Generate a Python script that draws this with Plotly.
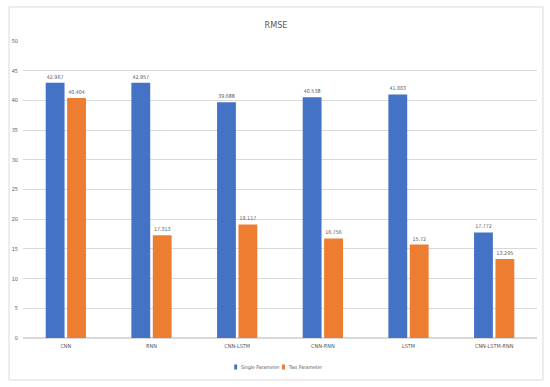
import plotly.graph_objects as go

categories = ["CNN", "RNN", "CNN-LSTM", "CNN-RNN", "LSTM", "CNN-LSTM-RNN"]
single_param = [42.967, 42.957, 39.688, 40.538, 41.003, 17.772]
two_param = [40.404, 17.313, 19.117, 16.756, 15.72, 13.295]
y_ticks = [0, 5, 10, 15, 20, 25, 30, 35, 40, 45, 50]
series_names = ["Single Parameter", "Two Parameter"]
series_colors = ["#4472C4", "#ED7D31"]

FONT = "DejaVu Sans Condensed, Liberation Sans, sans-serif"
GRAY = "#595959"

fig = go.Figure()
for name, vals, col in zip(series_names, [single_param, two_param], series_colors):
    fig.add_trace(go.Bar(
        name=name, x=categories, y=vals,
        marker_color=col, marker_line_width=0, text=[str(v) for v in vals],
        textposition="outside", textfont=dict(size=5.3, color=GRAY, family=FONT),
        cliponaxis=False, showlegend=False,
    ))

W, H = 550, 387
L, R, T, B = 21, 13, 41, 49
pw, ph = W - L - R, H - T - B

def px_x(p):
    return (p - L) / pw

def px_y(p):
    return (H - B - p) / ph

shapes = [dict(type="rect", xref="paper", yref="paper",
               x0=px_x(7), x1=px_x(543), y0=px_y(380), y1=px_y(7),
               line=dict(color="#d9d9d9", width=1), fillcolor="rgba(0,0,0,0)", layer="below")]
annotations = []
legend_x = [233, 281]
for name, col, lx in zip(series_names, series_colors, legend_x):
    shapes.append(dict(type="rect", xref="paper", yref="paper",
                       x0=px_x(lx), x1=px_x(lx + 3), y0=px_y(369.5), y1=px_y(364.5),
                       line=dict(width=0), fillcolor=col))
    annotations.append(dict(text=name, xref="paper", yref="paper", x=px_x(lx + 4.5), y=px_y(367),
                            xanchor="left", yanchor="middle", showarrow=False,
                            font=dict(size=5, color=GRAY, family=FONT)))

fig.update_layout(
    width=W, height=H,
    margin=dict(l=L, r=R, t=T, b=B),
    paper_bgcolor="white", plot_bgcolor="white",
    barmode="group", bargap=0.5, bargroupgap=0.12,
    font=dict(family=FONT, color=GRAY, size=5.5),
    title=dict(text="RMSE", x=276 / W, xanchor="center", y=1 - 25 / H, yanchor="middle",
               font=dict(size=9, color=GRAY, family=FONT)),
    showlegend=False,
    xaxis=dict(showline=True, linecolor="#d9d9d9", ticks="", ticklabelstandoff=2,
               tickfont=dict(size=5.5, color=GRAY, family=FONT)),
    yaxis=dict(range=[0, 50], tickvals=y_ticks, gridcolor="#d9d9d9", zeroline=True,
               zerolinecolor="#d9d9d9", showline=False, ticklabelstandoff=4,
               tickfont=dict(size=5.5, color=GRAY, family=FONT)),
    shapes=shapes,
    annotations=annotations,
)

fig.write_html("out.html", config={"displayModeBar": False},
               post_script="document.body.style.margin='0';document.body.style.overflow='hidden';")
